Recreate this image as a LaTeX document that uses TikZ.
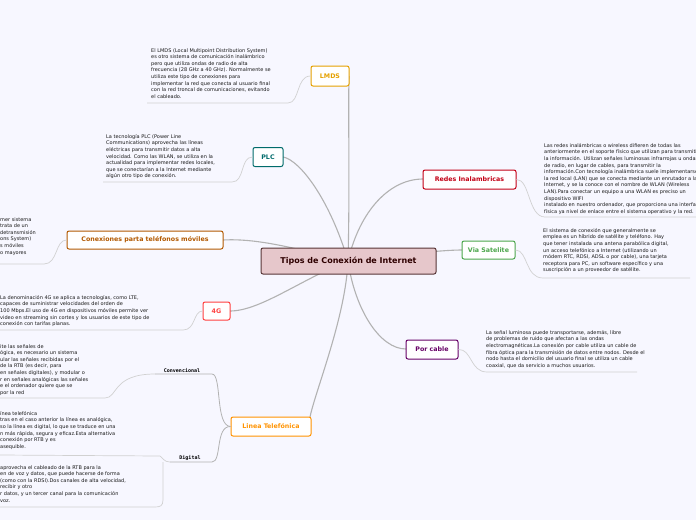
\documentclass[tikz,border=0pt]{standalone}
\usepackage{fontspec}
\setmainfont{DejaVu Sans}
\setmonofont{DejaVu Sans Mono}
\begin{document}
\begin{tikzpicture}[x=1pt,y=-1pt,
  box/.style={draw=#1,text=#1,fill=white,line width=1pt,rounded corners=2pt,font=\fontsize{6.3}{7}\selectfont\bfseries,inner sep=0pt},
  note/.style={anchor=north west,align=left,inner sep=0pt,text=black!90,font=\fontsize{5}{6.6}\selectfont},
  br/.style={draw=black!30,line width=1.1pt},
  ul/.style={draw=black!18,line width=0.7pt}]
\fill[blue!3!white] (0,0) rectangle (696,520);
\useasboundingbox (0,0) rectangle (696,520);
\definecolor{cen}{HTML}{E6C7CB}
% branches
\coordinate (c) at (348,261);
\draw[br] (c) .. controls (350,180) and (348,120) .. (349,76);
\draw[br] (c) .. controls (330,200) and (300,160) .. (283,157);
\draw[br] (c) .. controls (300,250) and (260,238) .. (223,240);
\draw[br] (c) .. controls (300,280) and (260,311) .. (230,311);
\draw[br] (c) .. controls (345,330) and (300,426) .. (311,426);
\draw[br] (c) .. controls (360,210) and (390,179) .. (423,179);
\draw[br] (c) .. controls (400,255) and (440,250) .. (462,250);
\draw[br] (c) .. controls (355,310) and (380,349) .. (406,349);
% nodes
\node[draw=cen!30!black!90!red,line width=1pt,fill=cen,rounded corners=2pt,text=black!70!red!60!black,font=\fontsize{8}{9}\selectfont\bfseries,minimum width=175pt,minimum height=26pt,inner sep=0pt] (root) at (348.5,261) {Tipos de Conexión de Internet};
\node[box=orange!60!yellow!90!black,minimum width=38pt,minimum height=20pt] (lmds) at (330,76) {LMDS};
\node[box=teal!80!cyan!70!black,minimum width=30pt,minimum height=19pt] (plc) at (268,157) {PLC};
\node[box=orange!70!black,minimum width=156pt,minimum height=18pt] (mov) at (145,240) {Conexiones parta teléfonos móviles};
\node[box=red!75!white,minimum width=27pt,minimum height=18pt] (g4) at (216.5,311) {4G};
\node[box=orange!85!yellow,minimum width=80pt,minimum height=19pt] (lin) at (271,426.5) {Linea Telefónica};
\node[box=purple!40!red!85!black,minimum width=93pt,minimum height=19pt] (red) at (469.5,179.5) {Redes Inalambricas};
\node[box=green!50!black!70!white,minimum width=53pt,minimum height=18pt] (sat) at (488.5,250) {Via Satelite};
\node[box=violet!80!black,minimum width=52pt,minimum height=19pt] (cab) at (432,349.5) {Por cable};
% sub labels
\node[font=\fontsize{5}{6}\selectfont\ttfamily\bfseries,inner sep=0pt] (conv) at (182,370) {Convencional};
\node[font=\fontsize{5}{6}\selectfont\ttfamily\bfseries,inner sep=0pt] (dig) at (190,457.5) {Digital};
\draw[br,line width=0.8pt] (lin.west) .. controls (215,426) and (222,374) .. (212,374) -- (155,374);
\draw[br,line width=0.8pt] (lin.west) .. controls (215,426) and (222,462) .. (212,462) -- (170,462);
% notes
\node[note] at (151,48) {El LMDS (Local Multipoint Distribution System)\\es otro sistema de comunicación inalámbrico\\pero que utiliza ondas de radio de alta\\frecuencia (28 GHz a 40 GHz). Normalmente se\\utiliza este tipo de conexiones para\\implementar la red que conecta al usuario final\\con la red troncal de comunicaciones, evitando\\el cableado.};
\draw[ul] (lmds.west) .. controls (296,76) and (300,103) .. (288,103) -- (147,103);
\node[note] at (106,134) {La tecnología PLC (Power Line\\Communications) aprovecha las líneas\\eléctricas para transmitir datos a alta\\velocidad. Como las WLAN, se utiliza en la\\actualidad para implementar redes locales,\\que se conectarían a la Internet mediante\\algún otro tipo de conexión.};
\draw[ul] (plc.west) .. controls (240,157) and (245,182) .. (232,182) -- (103,182);
\node[note] at (0,217) {mer sistema\\ trata de un\\detransmisión\\ons System)\\s móviles\\o mayores};
\draw[ul] (mov.west) .. controls (55,240) and (58,264) .. (44,264) -- (0,264);
\node[note] at (0,295) {La denominación 4G se aplica a tecnologías, como LTE,\\ capaces de suministrar velocidades del orden de\\100 Mbps.El uso de 4G en dispositivos móviles permite ver\\ video en streaming sin cortes y los usuarios de este tipo de\\ conexión con tarifas planas.};
\draw[ul] (g4.west) .. controls (193,311) and (196,330) .. (183,330) -- (0,330);
\node[note] at (0,344) {ite las señales de\\ógica, es necesario un sistema\\ular las señales recibidas por el\\ de la RTB (es decir, para\\ en señales digitales), y modular o\\r en señales analógicas las señales\\e el ordenador quiere que se\\ por la red};
\draw[ul] (155,374) .. controls (112,374) and (118,398) .. (105,398) -- (0,398);
\node[note] at (0,411) {ínea telefónica\\tras en el caso anterior la línea es analógica,\\so la línea es digital, lo que se traduce en una\\ n más rápida, segura y eficaz.Esta alternativa\\ conexión por RTB y es\\asequible.};
\node[note] at (0,465) {aprovecha el cableado de la RTB para la\\en de voz y datos, que puede hacerse de forma\\ (como con la RDSI).Dos canales de alta velocidad,\\ recibir y otro\\r datos, y un tercer canal para la comunicación\\ voz.};
\draw[ul] (170,462) .. controls (164,462) and (163,458) .. (160,456) -- (0,455);
\draw[ul] (163,462) -- (163,500) .. controls (163,506) and (160,507) .. (155,507) -- (0,507);
\node[note] at (544,143) {Las redes inalámbricas o wireless difieren de todas las\\anteriormente en el soporte físico que utilizan para transmitir\\la información. Utilizan señales luminosas infrarrojas u ondas\\de radio, en lugar de cables, para transmitir la\\información.Con tecnología inalámbrica suele implementarse\\la red local (LAN) que se conecta mediante un enrutador a la\\Internet, y se la conoce con el nombre de WLAN (Wireless\\LAN).Para conectar un equipo a una WLAN es preciso un\\dispositivo WIFI\\ instalado en nuestro ordenador, que proporciona una interfaz\\física ya nivel de enlace entre el sistema operativo y la red.};
\draw[ul] (red.east) .. controls (530,179) and (528,217) .. (545,217) -- (696,217);
\node[note] at (543,228) {El sistema de conexión que generalmente se\\emplea es un híbrido de satélite y teléfono. Hay\\que tener instalada una antena parabólica digital,\\un acceso telefónico a Internet (utilizando un\\módem RTC, RDSI, ADSL o por cable), una tarjeta\\receptora para PC, un software específico y una\\suscripción a un proveedor de satélite.};
\draw[ul] (sat.east) .. controls (528,250) and (525,278) .. (543,278) -- (690,278);
\node[note] at (486,330) {La señal luminosa puede transportarse, además, libre\\de problemas de ruido que afectan a las ondas\\electromagnéticas.La conexión por cable utiliza un cable de\\fibra óptica para la transmisión de datos entre nodos. Desde el\\nodo hasta el domicilio del usuario final se utiliza un cable\\coaxial, que da servicio a muchos usuarios.};
\draw[ul] (cab.east) .. controls (472,349) and (470,372) .. (487,372) -- (637,372);
\end{tikzpicture}
\end{document}
